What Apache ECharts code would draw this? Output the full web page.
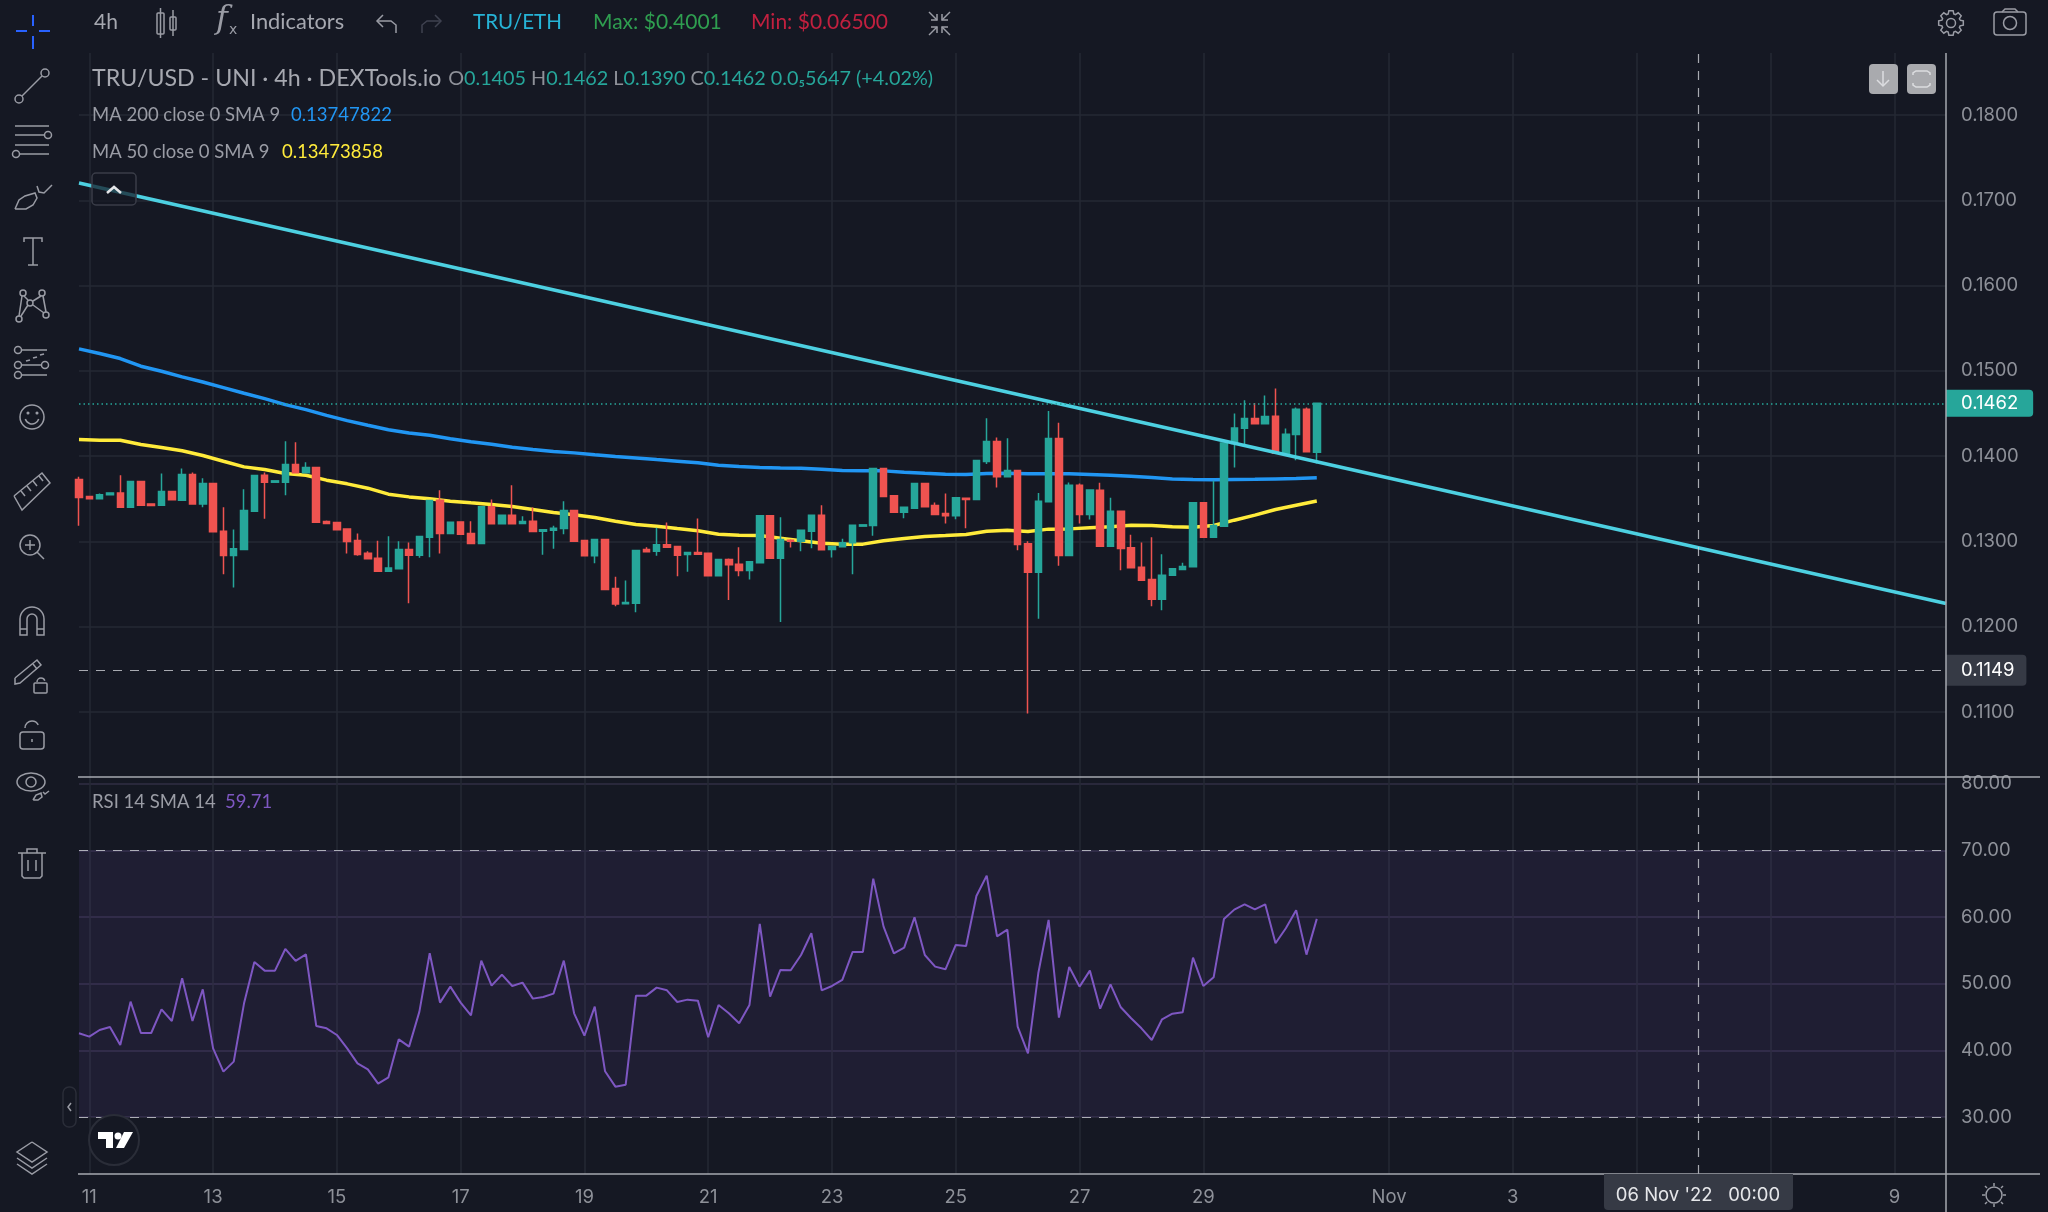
<!DOCTYPE html>
<html lang="en">
<head>
    <meta http-equiv="Content-Type" content="text/html; charset=UTF-8">
    <title>TRU/USD - UNI 4h</title>
    <script type="text/javascript" src="https://cdn.jsdelivr.net/npm/echarts@6/dist/echarts.min.js"></script>
    <style>
        html, body { margin: 0; padding: 0; background: #151823; }
        #chart { width: 2048px; height: 1212px; }
    </style>
</head>
<body>
<div id="chart"></div>
<script type="text/javascript">
    // candles, one per 4h bar
    var opens = [0.13727,0.13527,0.13500,0.13547,0.13570,0.13402,0.13703,0.13441,0.13426,0.13586,0.13484,0.13785,0.13441,0.13680,0.13121,0.12836,0.12906,0.13355,0.13777,0.13695,0.13695,0.13902,0.13805,0.13867,0.13234,0.13223,0.13148,0.13012,0.12863,0.12805,0.12652,0.12680,0.12906,0.12840,0.13051,0.13484,0.13094,0.13230,0.13094,0.12977,0.13406,0.13207,0.13309,0.13211,0.13238,0.13121,0.13133,0.13152,0.13363,0.13012,0.12832,0.13023,0.12449,0.12270,0.12277,0.12906,0.12887,0.12961,0.12942,0.12848,0.12871,0.12863,0.12598,0.12789,0.12734,0.12660,0.12750,0.13301,0.12805,0.13016,0.13004,0.13121,0.13309,0.12906,0.12938,0.12984,0.13180,0.13187,0.13855,0.13535,0.13344,0.13390,0.13680,0.13422,0.13328,0.13301,0.13508,0.13492,0.13938,0.14172,0.13758,0.13832,0.12973,0.12640,0.13465,0.14207,0.12836,0.13660,0.13316,0.13602,0.12945,0.13355,0.12926,0.12699,0.12555,0.12324,0.12605,0.12672,0.12703,0.13453,0.13051,0.13180,0.14148,0.14328,0.14441,0.14379,0.14469,0.14031,0.14254,0.14551,0.14047];
    var closes = [0.13516,0.13500,0.13547,0.13570,0.13402,0.13703,0.13426,0.13422,0.13586,0.13488,0.13785,0.13441,0.13680,0.13113,0.12836,0.12914,0.13363,0.13773,0.13695,0.13711,0.13902,0.13805,0.13867,0.13227,0.13211,0.13137,0.13000,0.12848,0.12797,0.12652,0.12688,0.12906,0.12840,0.13059,0.13480,0.13094,0.13227,0.13086,0.12977,0.13406,0.13207,0.13309,0.13207,0.13234,0.13117,0.13137,0.13156,0.13363,0.13004,0.12832,0.13023,0.12438,0.12266,0.12285,0.12895,0.12879,0.12961,0.12934,0.12840,0.12871,0.12852,0.12598,0.12789,0.12727,0.12660,0.12762,0.13301,0.12805,0.13023,0.13004,0.13133,0.13309,0.12902,0.12942,0.12984,0.13191,0.13195,0.13855,0.13527,0.13344,0.13402,0.13680,0.13406,0.13316,0.13301,0.13512,0.13492,0.13949,0.14172,0.13758,0.13832,0.12965,0.12640,0.13473,0.14207,0.12836,0.13660,0.13316,0.13605,0.12945,0.13355,0.12918,0.12691,0.12547,0.12324,0.12605,0.12680,0.12707,0.13453,0.13051,0.13187,0.14156,0.14332,0.14441,0.14379,0.14465,0.14035,0.14258,0.14551,0.14051,0.14621];
    var lows = [0.13184,0.13500,0.13500,0.13547,0.13402,0.13402,0.13426,0.13422,0.13426,0.13488,0.13477,0.13441,0.13402,0.13113,0.12617,0.12461,0.12906,0.13355,0.13266,0.13695,0.13543,0.13805,0.13805,0.13227,0.13211,0.13137,0.12859,0.12832,0.12797,0.12652,0.12652,0.12680,0.12277,0.12809,0.12816,0.12859,0.13086,0.13086,0.12977,0.12977,0.13207,0.13207,0.13207,0.13211,0.13117,0.12844,0.12914,0.13086,0.13004,0.12832,0.12746,0.12438,0.12242,0.12270,0.12172,0.12871,0.12832,0.12934,0.12594,0.12645,0.12852,0.12598,0.12598,0.12313,0.12594,0.12555,0.12750,0.12805,0.12055,0.12930,0.12887,0.12922,0.12902,0.12813,0.12938,0.12617,0.13180,0.13066,0.13527,0.13344,0.13273,0.13390,0.13406,0.13316,0.13211,0.13262,0.13156,0.13492,0.13910,0.13633,0.13750,0.12898,0.10984,0.12094,0.13465,0.12715,0.12836,0.13211,0.13258,0.12945,0.12945,0.12664,0.12691,0.12547,0.12242,0.12195,0.12605,0.12672,0.12703,0.13051,0.13051,0.13180,0.13867,0.14141,0.14379,0.14379,0.14035,0.14031,0.13953,0.14051,0.13914];
    var highs = [0.13758,0.13527,0.13562,0.13570,0.13777,0.13711,0.13703,0.13441,0.13797,0.13586,0.13855,0.13809,0.13742,0.13680,0.13402,0.13141,0.13613,0.13773,0.13809,0.13711,0.14176,0.14164,0.13930,0.13867,0.13246,0.13223,0.13148,0.13094,0.12887,0.13008,0.13062,0.13004,0.12988,0.13059,0.13480,0.13602,0.13227,0.13230,0.13238,0.13406,0.13492,0.13309,0.13660,0.13297,0.13398,0.13137,0.13184,0.13473,0.13363,0.13012,0.13023,0.13023,0.12586,0.12543,0.12895,0.12934,0.13160,0.13223,0.12942,0.12871,0.13270,0.12863,0.12789,0.12800,0.12934,0.12762,0.13301,0.13301,0.13285,0.13027,0.13133,0.13309,0.13426,0.12942,0.13031,0.13191,0.13195,0.13855,0.13855,0.13535,0.13402,0.13680,0.13680,0.13457,0.13562,0.13512,0.13508,0.13949,0.14445,0.14219,0.14211,0.13832,0.13004,0.13570,0.14531,0.14391,0.13691,0.13680,0.13605,0.13688,0.13512,0.13355,0.13078,0.12988,0.13051,0.12852,0.12680,0.12750,0.13453,0.13453,0.13711,0.14156,0.14500,0.14656,0.14625,0.14711,0.14793,0.14324,0.14570,0.14570,0.14621];

    // moving averages, read every second bar
    var ma200 = [0.15258,0.15204,0.15145,0.15055,0.14996,0.14930,0.14870,0.14804,0.14738,0.14675,0.14605,0.14546,0.14479,0.14417,0.14362,0.14311,0.14272,0.14245,0.14205,0.14170,0.14140,0.14105,0.14078,0.14055,0.14039,0.14016,0.13996,0.13980,0.13960,0.13941,0.13922,0.13895,0.13879,0.13867,0.13863,0.13860,0.13848,0.13832,0.13828,0.13828,0.13812,0.13800,0.13789,0.13785,0.13797,0.13800,0.13793,0.13793,0.13793,0.13785,0.13777,0.13766,0.13750,0.13734,0.13727,0.13723,0.13727,0.13730,0.13734,0.13738,0.13748];
    var ma50 = [0.14195,0.14187,0.14187,0.14137,0.14102,0.14063,0.14008,0.13941,0.13875,0.13844,0.13797,0.13777,0.13719,0.13676,0.13625,0.13555,0.13523,0.13500,0.13473,0.13453,0.13434,0.13410,0.13375,0.13340,0.13313,0.13281,0.13238,0.13199,0.13180,0.13152,0.13125,0.13086,0.13074,0.13070,0.13039,0.13008,0.12980,0.12969,0.12969,0.13008,0.13035,0.13059,0.13070,0.13082,0.13121,0.13133,0.13117,0.13145,0.13148,0.13160,0.13172,0.13191,0.13187,0.13172,0.13168,0.13187,0.13250,0.13309,0.13375,0.13426,0.13474];

    // trend line end points (first and last bar of the axis)
    var trendBars = [0, 181];
    var trendValues = [0.17203, 0.12274];

    // RSI, one per bar
    var rsi = [42.55,42.05,43.05,43.5,40.8,47.3,42.6,42.6,46.15,44.4,50.8,44.4,49.15,40.3,36.8,38.3,47.05,53.25,51.95,51.95,55.2,53.4,54.4,43.65,43.3,42.3,40.3,38.05,37.15,35,35.95,41.65,40.55,45.8,54.55,47.15,49.55,47.15,45.25,53.45,49.7,51.35,49.65,50.15,47.75,48,48.5,53.45,45.55,42.2,46.55,36.85,34.55,34.85,48.2,48.2,49.4,49,47.25,47.6,47.45,41.95,46.8,45.55,44.05,46.8,58.95,48.05,52.05,52,54.3,57.55,49,49.65,50.55,54.75,54.75,65.75,58.55,54.55,55.4,59.95,54.3,52.55,52.15,55.8,55.65,63.15,66.2,57.1,58.1,43.55,39.55,51.55,59.55,44.9,52.5,49.55,51.95,46.25,49.9,46.45,44.8,43.3,41.55,44.65,45.5,45.7,53.9,49.65,50.95,59.7,61.1,61.9,61.15,61.9,56.05,58.3,61,54.35,59.71];

    // axes
    var tickBars = [1,13,25,37,49,61,73,85,97,109,127,139,151,164,176];
    var tickLabels = ['11','13','15','17','19','21','23','25','27','29','Nov','3','5','7','9'];
    var priceTicks = [0.11,0.12,0.13,0.14,0.15,0.16,0.17,0.18];
    var rsiTicks = [30,40,50,60,70,80];
    var lastPrice = 0.1462;
    var alertPrice = 0.1149;
    var crosshairBar = 157;

    var categories = [];
    for (var b = 0; b < 182; b++) {
        // the clocks go back on 6 Nov, so the axis gets one extra bar there
        var t = Date.UTC(2022, 9, 10, 20) + (b > 158 ? b - 1 : b) * 4 * 3600000;
        categories.push(new Date(t).toISOString().slice(0, 16));
    }

    var BG = '#151823', GRID = '#252835', AXIS = '#a6a8b0', LABEL = '#8e9199', ICON = '#9a9ca5', DASH = 'rgba(205,207,213,0.8)';
    var TEAL = '#26a69a', RED = '#ef5350', BLUE = '#2196f3', YELLOW = '#ffeb3b', TREND = '#4dd0e1', PURPLE = '#7e57c2';
    var UIFONT = 'Lato', NUMFONT = 'Inter';

    function isTick(index) { return tickBars.indexOf(index) >= 0; }

    // drawing helpers for the toolbars
    function pl(points, color, width) {
        return { type: 'polyline', z: 100, silent: true, shape: { points: points }, style: { stroke: color || ICON, fill: null, lineWidth: width || 1.5 } };
    }
    function ci(cx, cy, r, color) {
        return { type: 'circle', z: 100, silent: true, shape: { cx: cx, cy: cy, r: r }, style: { stroke: color || ICON, fill: 'none', lineWidth: 1.5 } };
    }
    function ar(cx, cy, r, a0, a1) {
        return { type: 'arc', z: 100, silent: true, shape: { cx: cx, cy: cy, r: r, startAngle: a0, endAngle: a1, clockwise: true }, style: { stroke: ICON, fill: null, lineWidth: 1.5 } };
    }
    function re(x, y, w, h, r, stroke, fill) {
        return { type: 'rect', z: 100, silent: true, shape: { x: x, y: y, width: w, height: h, r: r || 0 }, style: { stroke: stroke || ICON, fill: fill || 'none', lineWidth: stroke === 'none' ? 0 : 1.5 } };
    }
    function tx(x, y, text, color, size, font, extra) {
        var st = { x: x, y: y, text: text, fill: color, fontSize: size, fontFamily: font || UIFONT, textVerticalAlign: 'middle' };
        for (var k in (extra || {})) st[k] = extra[k];
        return { type: 'text', z: 103, silent: true, style: st };
    }

    function gearPoints(cx, cy) {
        var pts = [];
        for (var i = 0; i < 8; i++) {
            var a = i * Math.PI / 4;
            [[-0.3, 9.5], [-0.17, 12.5], [0.17, 12.5], [0.3, 9.5]].forEach(function (p) {
                pts.push([cx + p[1] * Math.cos(a + p[0]), cy + p[1] * Math.sin(a + p[0])]);
            });
        }
        pts.push(pts[0]);
        return pts;
    }

    var ui = [
        // pane frame
        pl([[78, 777], [2040, 777]], AXIS, 1.5),
        pl([[78, 1174], [2040, 1174]], AXIS, 1.5),
        pl([[1946, 53], [1946, 1212]], AXIS, 1.5),

        // top bar
        tx(94, 22, '4h', '#a6a8b0', 21),
        re(157, 13, 7, 21, 1), pl([[160.5, 8], [160.5, 38]]), re(170, 17, 6, 13, 1), pl([[173, 10], [173, 36]]),
        tx(216, 20, 'f', ICON, 32, 'DejaVu Serif', { fontStyle: 'italic' }), tx(229, 30, 'x', ICON, 14, 'DejaVu Sans'),
        tx(250, 22, 'Indicators', '#a6a8b0', 21.8),
        pl([[383, 15], [377, 21], [383, 27]]), pl([[377, 21], [391, 21], [396, 25], [396, 33]]),
        pl([[435, 15], [441, 21], [435, 27]], '#3f4250'), pl([[441, 21], [427, 21], [422, 25], [422, 33]], '#3f4250'),
        tx(473, 22, 'TRU/ETH', '#26b3d6', 20.6),
        tx(593, 22, 'Max: $0.4001', '#2f9e50', 21),
        tx(751, 22, 'Min: $0.06500', '#c2203f', 21),
        pl([[929, 12], [937, 20]]), pl([[937, 14], [937, 20], [931, 20]]),
        pl([[950, 12], [942, 20]]), pl([[942, 14], [942, 20], [948, 20]]),
        pl([[929, 35], [937, 27]]), pl([[931, 27], [937, 27], [937, 33]]),
        pl([[950, 35], [942, 27]]), pl([[948, 27], [942, 27], [942, 33]]),
        pl(gearPoints(1951, 23)), ci(1951, 23, 4.5),
        pl([[2002, 12], [2005, 9], [2015, 9], [2018, 12]]), re(1994, 12, 32, 23, 3), ci(2010, 23, 6.5),

        // legend lines
        { type: 'text', z: 101, silent: true, style: { x: 92, y: 79, textVerticalAlign: 'middle', text: '{t|TRU/USD - UNI · 4h · DEXTools.io}{s| }{g|O}{v|0.1405 }{g|H}{v|0.1462 }{g|L}{v|0.1390 }{g|C}{v|0.1462 }{v|0.0₅5647 (+4.02%)}', rich: {
            t: { fill: '#a6a8b0', fontSize: 23.2, fontFamily: UIFONT },
            s: { fontSize: 24 },
            g: { fill: '#8e9199', fontSize: 19.8, fontFamily: UIFONT },
            v: { fill: TEAL, fontSize: 19.8, fontFamily: UIFONT }
        } } },
        tx(92, 115, 'MA 200 close 0 SMA 9', '#9a9ca5', 18.5),
        tx(291, 115, '0.13747822', BLUE, 18.5),
        tx(92, 152, 'MA 50 close 0 SMA 9', '#9a9ca5', 18.5),
        tx(282, 152, '0.13473858', YELLOW, 18.5),
        tx(92, 802, 'RSI 14 SMA 14', '#9a9ca5', 18.5),
        tx(225, 802, '59.71', PURPLE, 18.5),

        // little buttons on the chart
        re(92, 173, 44, 32, 4, '#3a3d48', 'rgba(21,24,35,0.72)'),
        pl([[107, 193], [114, 187], [121, 193]], '#e4e5e8', 2.5),
        re(1869, 64, 29, 30, 4, 'none', '#a9aaae'),
        pl([[1883, 71], [1883, 86]], '#dcdde0'), pl([[1877, 80], [1883, 86], [1889, 80]], '#dcdde0'),
        re(1907, 64, 29, 30, 4, 'none', '#a9aaae'),
        pl([[1913, 75], [1913, 73], [1916, 71], [1927, 71], [1930, 73], [1930, 75]], '#dcdde0'),
        pl([[1913, 83], [1913, 85], [1916, 87], [1927, 87], [1930, 85], [1930, 83]], '#dcdde0'),

        // crosshair tag on the time axis
        { type: 'rect', z: 102, silent: true, shape: { x: 1604, y: 1174, width: 189, height: 36, r: [0, 0, 4, 4] }, style: { fill: '#363a45' } },
        tx(1698, 1195, "06 Nov '22   00:00", '#e6e7ea', 18.5, NUMFONT, { textAlign: 'center' }),

        // settings sun, bottom right
        ci(1994, 1195, 8),
        pl([[1994, 1183], [1994, 1186]]), pl([[1994, 1204], [1994, 1207]]), pl([[1982, 1195], [1985, 1195]]), pl([[2003, 1195], [2006, 1195]]),
        pl([[1985, 1186], [1987, 1188]]), pl([[2001, 1202], [2003, 1204]]), pl([[2003, 1186], [2001, 1188]]), pl([[1987, 1202], [1985, 1204]]),

        // left toolbar
        pl([[33, 15], [33, 26]], '#2962ff', 2), pl([[33, 36], [33, 49]], '#2962ff', 2), pl([[16, 31], [27, 31]], '#2962ff', 2), pl([[39, 31], [50, 31]], '#2962ff', 2),
        ci(45, 73, 4), ci(19, 99, 4), pl([[22, 96], [42, 76]]),
        pl([[15, 126], [49, 126]]), pl([[15, 135], [44, 135]]), ci(48, 135, 3.5), pl([[15, 145], [49, 145]]), pl([[20, 154], [49, 154]]), ci(16, 154, 3.5),
        pl([[15, 209], [19, 200], [25, 196], [35, 193], [37, 198], [33, 205], [26, 209], [15, 209]]), pl([[37, 186], [39, 192], [44, 193], [52, 185]]),
        pl([[24, 242], [24, 238], [42, 238], [42, 242]]), pl([[33, 238], [33, 265]]), pl([[28, 265], [38, 265]]),
        ci(23, 293, 3), ci(42, 293, 3), ci(30, 303, 3), ci(19, 319, 3), ci(46, 315, 3),
        pl([[22, 296], [19, 316]]), pl([[24, 296], [28, 300]]), pl([[41, 296], [33, 301]]), pl([[43, 296], [46, 312]]), pl([[33, 305], [44, 313]]), pl([[28, 305], [21, 316]]),
        ci(18, 350, 3.5), pl([[22, 350], [47, 350]]), ci(18, 365, 3.5), ci(45, 365, 3.5), pl([[22, 365], [41, 365]]), ci(18, 375, 3.5), pl([[22, 375], [47, 375]]),
        pl([[26, 361], [30, 360]]), pl([[33, 358], [37, 357]]), pl([[40, 355], [44, 354]]),
        ci(32, 417, 12), ci(28, 413, 0.8), ci(37, 413, 0.8), ar(32, 417, 7, 0.3, Math.PI - 0.3),
        pl([[14, 496], [42, 473], [50, 483], [22, 510], [14, 496]]), pl([[21, 491], [25, 496]]), pl([[27, 486], [31, 491]]), pl([[33, 481], [37, 486]]), pl([[39, 476], [43, 481]]),
        ci(30, 545, 10), pl([[37, 552], [44, 559]]), pl([[25, 545], [35, 545]]), pl([[30, 540], [30, 550]]),
        ar(32, 619, 12, Math.PI, 2 * Math.PI), ar(32, 619, 5, Math.PI, 2 * Math.PI), pl([[20, 619], [20, 635], [27, 635], [27, 619]]), pl([[37, 619], [37, 635], [44, 635], [44, 619]]), pl([[20, 629], [27, 629]]), pl([[37, 629], [44, 629]]),
        pl([[15, 678], [37, 660], [41, 665], [20, 683], [15, 684], [15, 678]]), pl([[33, 664], [37, 669]]), re(34, 683, 13, 10, 1), ar(41, 682, 4, Math.PI, 1.9 * Math.PI),
        re(20, 732, 24, 17, 3), ar(32, 728, 7, Math.PI, 1.85 * Math.PI), pl([[32, 739], [32, 742]]),
        { type: 'ellipse', z: 100, silent: true, shape: { cx: 31, cy: 782, rx: 14, ry: 9 }, style: { stroke: ICON, fill: 'none', lineWidth: 1.5 } }, ci(31, 782, 5),
        pl([[33, 800], [36, 795], [41, 793], [42, 797], [38, 800], [33, 800]]), pl([[43, 792], [45, 794], [49, 791]]),
        pl([[18, 853], [46, 853]]), pl([[27, 853], [27, 849], [37, 849], [37, 853]]), pl([[22, 853], [22, 876], [24, 878], [40, 878], [42, 876], [42, 853]]), pl([[28, 860], [28, 871]]), pl([[36, 860], [36, 871]]),
        pl([[32, 1142], [47, 1152], [32, 1162], [17, 1152], [32, 1142]]), pl([[17, 1158], [32, 1168], [47, 1158]]), pl([[17, 1164], [32, 1174], [47, 1164]]),

        // logo and collapse pill
        re(63, 1087, 13, 40, 6, '#2a2d38'), pl([[71, 1103], [68, 1107], [71, 1111]]),
        { type: 'circle', z: 100, silent: true, shape: { cx: 114, cy: 1140, r: 25 }, style: { stroke: '#2a2d38', fill: BG, lineWidth: 2 } },
        { type: 'polygon', z: 101, silent: true, shape: { points: [[98, 1132], [113, 1132], [113, 1148], [106, 1148], [106, 1139], [98, 1139]] }, style: { fill: '#ffffff' } },
        { type: 'circle', z: 101, silent: true, shape: { cx: 118, cy: 1136, r: 3.5 }, style: { fill: '#ffffff' } },
        { type: 'polygon', z: 101, silent: true, shape: { points: [[124, 1132], [133, 1132], [124, 1148], [116, 1148]] }, style: { fill: '#ffffff' } }
    ];

    var myChart = echarts.init(document.getElementById('chart'));

    var option = {
        animation: false,
        backgroundColor: BG,
        textStyle: { fontFamily: NUMFONT },
        grid: [
            { left: 79, width: 1867, top: 53, height: 724 },
            { left: 79, width: 1867, top: 777, height: 397 }
        ],
        xAxis: [0, 1].map(function (g) {
            return {
                type: 'category', gridIndex: g, data: categories, boundaryGap: false,
                axisLine: { show: false }, axisTick: { show: false },
                splitLine: { show: true, interval: isTick, lineStyle: { color: GRID, width: 1.5 } },
                axisLabel: g === 0 ? { show: false } : {
                    show: true, interval: isTick, margin: 14, color: LABEL, fontSize: 18.5, fontFamily: NUMFONT,
                    formatter: function (value, index) { return tickLabels[tickBars.indexOf(index)]; }
                }
            };
        }),
        yAxis: [
            {
                type: 'value', gridIndex: 0, position: 'right', scale: true,
                min: 0.102392, max: 0.187268,
                axisLine: { show: false },
                axisTick: { show: false, customValues: priceTicks },
                splitLine: { show: true, lineStyle: { color: GRID, width: 1.5 } },
                axisLabel: { customValues: priceTicks, margin: 15, color: LABEL, fontSize: 18.5, fontFamily: NUMFONT, padding: [3, 0, 0, 0],
                    formatter: function (v) { return v.toFixed(4); } }
            },
            {
                type: 'value', gridIndex: 1, position: 'right', scale: true,
                min: 21.45, max: 80.99,
                axisLine: { show: false },
                axisTick: { show: false, customValues: rsiTicks },
                splitLine: { show: true, lineStyle: { color: '#302e44', width: 1.5 } },
                axisLabel: { customValues: rsiTicks, margin: 15, color: LABEL, fontSize: 18.5, fontFamily: NUMFONT, padding: [3, 0, 0, 0],
                    formatter: function (v) { return v.toFixed(2); } }
            }
        ],
        series: [
            {
                name: 'MA 200', type: 'line', xAxisIndex: 0, yAxisIndex: 0, z: 2, showSymbol: false, silent: true,
                data: ma200.map(function (v, i) { return [i * 2, v]; }),
                lineStyle: { color: BLUE, width: 3.5 }
            },
            {
                name: 'MA 50', type: 'line', xAxisIndex: 0, yAxisIndex: 0, z: 2, showSymbol: false, silent: true,
                data: ma50.map(function (v, i) { return [i * 2, v]; }),
                lineStyle: { color: YELLOW, width: 3.5 }
            },
            {
                name: 'TRU/USD', type: 'candlestick', xAxisIndex: 0, yAxisIndex: 0, z: 3, barWidth: 7, silent: true,
                data: opens.map(function (o, i) { return [o, closes[i], lows[i], highs[i]]; }),
                itemStyle: { color: TEAL, color0: RED, borderColor: TEAL, borderColor0: RED, borderWidth: 1.5 }
            },
            {
                name: 'Trend', type: 'line', xAxisIndex: 0, yAxisIndex: 0, z: 4, showSymbol: false, silent: true,
                data: trendBars.map(function (x, i) { return [x, trendValues[i]]; }),
                lineStyle: { color: TREND, width: 3.5 },
                markLine: {
                    symbol: 'none', silent: true, animation: false, precision: 4,
                    data: [
                        { yAxis: lastPrice, lineStyle: { color: TEAL, type: [1.5, 3], width: 1.5 },
                          label: { show: true, position: 'end', distance: 0, formatter: lastPrice.toFixed(4), color: '#ffffff', fontFamily: NUMFONT, fontSize: 18.5,
                              backgroundColor: TEAL, padding: [4, 15, 4, 15], borderRadius: [0, 4, 4, 0], align: 'left' } },
                        { yAxis: alertPrice, lineStyle: { color: DASH, type: [9, 8], width: 1.2 },
                          label: { show: true, position: 'end', distance: 0, formatter: alertPrice.toFixed(4), color: '#ffffff', fontFamily: NUMFONT, fontSize: 18.5,
                              backgroundColor: '#363a45', padding: [6, 12, 6, 15], borderRadius: [0, 4, 4, 0], align: 'left' } },
                        { xAxis: crosshairBar, lineStyle: { color: DASH, type: [9, 8], width: 1.2 }, label: { show: false } }
                    ]
                }
            },
            {
                name: 'RSI', type: 'line', xAxisIndex: 1, yAxisIndex: 1, z: 4, showSymbol: false, silent: true,
                data: rsi.map(function (v, i) { return [i, v]; }),
                lineStyle: { color: PURPLE, width: 2 },
                markArea: { silent: true, itemStyle: { color: 'rgba(126,87,194,0.1)' }, data: [[{ yAxis: 30 }, { yAxis: 70 }]] },
                markLine: {
                    symbol: 'none', silent: true, animation: false, label: { show: false },
                    lineStyle: { color: DASH, type: [9, 8], width: 1.2 },
                    data: [{ yAxis: 70 }, { yAxis: 30 }, { xAxis: crosshairBar }]
                }
            }
        ],
        graphic: { elements: ui }
    };

    myChart.setOption(option);

    window.addEventListener('resize', function () {
        myChart.resize();
    });
</script>
</body>
</html>
